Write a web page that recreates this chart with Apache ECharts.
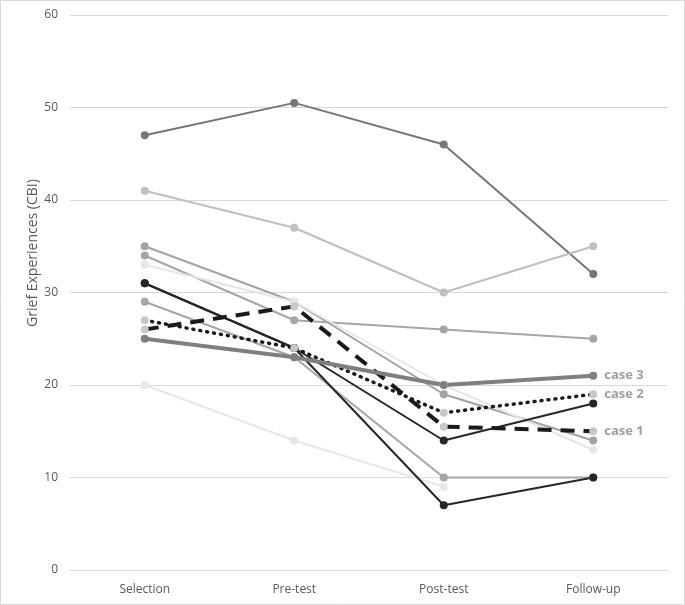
<!DOCTYPE html>
<html>
<head>
<meta charset="utf-8">
<script src="https://cdn.jsdelivr.net/npm/echarts@6/dist/echarts.min.js"></script>
<style>
    html, body { margin: 0; padding: 0; background: #fff; }
    #main { width: 685px; height: 605px; }
</style>
</head>
<body>
<div id="main"></div>
<script>
// time points on the x axis
let phases = ['Selection', 'Pre-test', 'Post-test', 'Follow-up'];
let yTicks = [0, 10, 20, 30, 40, 50, 60];

// CBI scores per participant
let p1 = [47, 50.5, 46, 32];
let p2 = [41, 37, 30, 35];
let p3 = [35, 29, 19, 14];
let p4 = [34, 27, 26, 25];
let p5 = [33, 29, 20, 13];
let p6 = [20, 14, 9, null];
let p7 = [29, 23, 10, 10];
let p8 = [31, 24, 7, 10];
let p9 = [31, 24, 14, 18];
let case1 = [26, 28.5, 15.5, 15];
let case2 = [27, 24, 17, 19];
let case3 = [25, 23, 20, 21];

let chart = echarts.init(document.getElementById('main'));

function plain(name, data, color) {
    return {
        name: name,
        type: 'line',
        data: data,
        symbol: 'circle',
        symbolSize: 8,
        lineStyle: { color: color, width: 2 },
        itemStyle: { color: color },
        silent: true
    };
}

function caseLine(name, data, lineColor, dotColor, width, dash) {
    let s = plain(name, data, dotColor);
    s.lineStyle = { color: lineColor, width: width, type: dash };
    s.endLabel = {
        show: true,
        formatter: name,
        color: '#a0a0a0',
        fontSize: 13,
        fontWeight: 'bold',
        fontFamily: 'Open Sans',
        distance: 11
    };
    return s;
}

let option = {
    animation: false,
    grid: { left: 70, right: 17, top: 15, bottom: 35 },
    xAxis: {
        type: 'category',
        data: phases,
        boundaryGap: true,
        axisLine: { lineStyle: { color: '#d9d9d9' } },
        axisTick: { show: false },
        axisLabel: { color: '#595959', fontSize: 12, fontFamily: 'Open Sans', margin: 14 }
    },
    yAxis: {
        type: 'value',
        min: yTicks[0],
        max: yTicks[yTicks.length - 1],
        interval: 10,
        axisLine: { show: false },
        axisTick: { show: false },
        splitLine: { lineStyle: { color: '#d9d9d9' } },
        axisLabel: { color: '#595959', fontSize: 12, fontFamily: 'Open Sans', margin: 12 }
    },
    graphic: [{
        type: 'rect',
        shape: { x: 0.5, y: 0.5, width: 684, height: 604 },
        style: { fill: null, stroke: '#d9d9d9', lineWidth: 1 },
        silent: true
    }, {
        type: 'text',
        x: 33,
        y: 253,
        rotation: Math.PI / 2,
        style: {
            text: 'Grief Experiences (CBI)',
            fill: '#595959',
            fontSize: 14,
            fontFamily: 'Open Sans',
            align: 'center',
            verticalAlign: 'middle'
        }
    }],
    series: [
        plain('p1', p1, '#767676'),
        plain('p2', p2, '#bfbfbf'),
        plain('p3', p3, '#a3a3a3'),
        plain('p4', p4, '#a6a6a6'),
        plain('p5', p5, '#e6e6e6'),
        plain('p6', p6, '#e8e8e8'),
        plain('p7', p7, '#a6a6a6'),
        plain('p8', p8, '#262626'),
        plain('p9', p9, '#262626'),
        caseLine('case 1', case1, '#1a1a1a', '#c8c8c8', 4, [14, 9]),
        caseLine('case 2', case2, '#1a1a1a', '#c8c8c8', 3.5, [1, 6]),
        caseLine('case 3', case3, '#7f7f7f', '#7f7f7f', 4, 'solid')
    ]
};
option.series[10].lineStyle.cap = 'round';
chart.setOption(option);
</script>
</body>
</html>
